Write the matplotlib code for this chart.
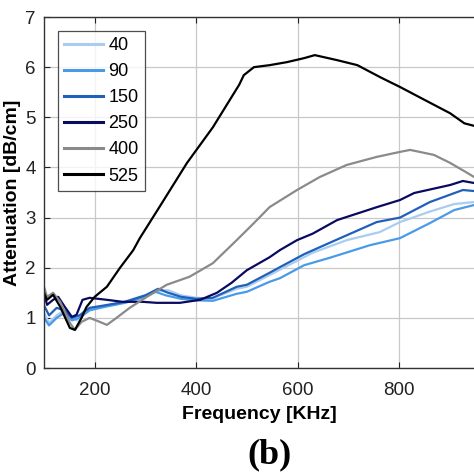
import numpy as np
import matplotlib.pyplot as plt

# frequency [KHz] / attenuation [dB/cm]
f_525 = [100, 106, 118, 132, 151, 161, 174, 184, 200, 224, 250, 276, 289, 327, 382, 433, 485,
         494, 514, 545, 579, 613, 634, 678, 718, 763, 803, 850, 901, 929, 948]
a_525 = [1.50, 1.36, 1.46, 1.22, 0.80, 0.76, 1.00, 1.22, 1.42, 1.62, 2.00, 2.35, 2.59, 3.20, 4.09, 4.80, 5.65,
         5.84, 6.00, 6.04, 6.10, 6.18, 6.24, 6.14, 6.04, 5.80, 5.60, 5.35, 5.08, 4.88, 4.83]

f_400 = [100, 106, 118, 132, 151, 161, 174, 190, 210, 224, 243, 269, 303, 342, 387, 433, 480,
         514, 545, 599, 644, 697, 756, 802, 822, 869, 901, 935, 948]
a_400 = [1.62, 1.42, 1.50, 1.32, 0.90, 0.76, 0.92, 1.00, 0.92, 0.86, 1.00, 1.20, 1.42, 1.66, 1.82, 2.09, 2.55,
         2.89, 3.21, 3.55, 3.81, 4.05, 4.21, 4.31, 4.35, 4.25, 4.09, 3.89, 3.81]

f_250 = [100, 106, 118, 128, 141, 155, 164, 176, 190, 224, 255, 295, 322, 368, 408, 441, 470,
         500, 545, 565, 599, 630, 678, 757, 802, 830, 901, 926, 948]
a_250 = [1.50, 1.26, 1.36, 1.42, 1.22, 1.02, 1.06, 1.36, 1.40, 1.36, 1.32, 1.32, 1.30, 1.30, 1.36, 1.50, 1.70,
         1.95, 2.21, 2.35, 2.55, 2.68, 2.95, 3.21, 3.35, 3.49, 3.65, 3.73, 3.69]

f_150 = [100, 110, 125, 140, 155, 170, 190, 220, 260, 300, 325, 345, 370, 400, 433, 480,
         500, 545, 565, 613, 664, 756, 802, 861, 926, 948]
a_150 = [1.25, 1.05, 1.20, 1.15, 1.00, 1.05, 1.20, 1.25, 1.32, 1.45, 1.58, 1.50, 1.42, 1.38, 1.40, 1.62,
         1.66, 1.90, 2.01, 2.27, 2.50, 2.91, 3.00, 3.31, 3.55, 3.53]

f_90 = [100, 110, 125, 140, 155, 170, 190, 220, 260, 300, 320, 340, 370, 400, 433, 480,
        500, 545, 565, 613, 664, 743, 802, 861, 909, 948]
a_90 = [1.00, 0.85, 1.00, 1.10, 0.95, 1.00, 1.15, 1.22, 1.30, 1.42, 1.52, 1.45, 1.38, 1.35, 1.34, 1.48,
        1.52, 1.72, 1.79, 2.05, 2.20, 2.45, 2.59, 2.89, 3.15, 3.25]

f_40 = [100, 110, 125, 140, 155, 165, 180, 200, 250, 300, 330, 345, 370, 400, 430, 480,
        500, 565, 630, 697, 762, 802, 861, 909, 948]
a_40 = [1.10, 0.90, 1.05, 1.15, 1.00, 0.95, 1.15, 1.20, 1.30, 1.45, 1.55, 1.55, 1.45, 1.40, 1.38, 1.58,
        1.62, 1.96, 2.30, 2.55, 2.71, 2.91, 3.12, 3.27, 3.31]

labels = ['40', '90', '150', '250', '400', '525']
colors = ['#a8cdf0', '#4a9ae8', '#2060b8', '#0a0a60', '#8a8a8a', '#000000']
series = [(f_40, a_40), (f_90, a_90), (f_150, a_150), (f_250, a_250), (f_400, a_400), (f_525, a_525)]

plt.rcParams['font.family'] = ['Liberation Sans', 'DejaVu Sans']

fig = plt.figure(figsize=(4.74, 4.74), dpi=100)
ax = fig.add_axes([0.0928, 0.2236, 0.9072, 0.7405])

for (f, a), lab, c in zip(series, labels, colors):
    ax.plot(f, a, color=c, lw=1.6, label=lab)

ax.set_xlim(100, 948)
ax.set_ylim(0, 7)
ax.set_xticks([200, 400, 600, 800])
ax.set_yticks(range(8))
ax.grid(True, color='#c8c8c8', lw=0.9)
ax.set_axisbelow(True)
ax.tick_params(direction='in', length=4, width=0.8, top=True, labelsize=13.5, colors='#222222')
ax.tick_params(axis='x', pad=10)
ax.tick_params(axis='y', pad=6)
for s in ['left', 'bottom', 'top']:
    ax.spines[s].set_color('#333333')
    ax.spines[s].set_linewidth(1.0)
ax.spines['right'].set_visible(False)

ax.set_xlabel('Frequency [KHz]', fontsize=14, fontweight='bold', labelpad=5)
ax.set_ylabel('Attenuation [dB/cm]', fontsize=14, fontweight='bold', labelpad=3)

leg = ax.legend(loc='upper left', bbox_to_anchor=(0.033, 0.96), fontsize=13, frameon=True,
                fancybox=False, edgecolor='#222222', handlelength=2.15, handletextpad=0.28,
                labelspacing=0.5, borderpad=0.35, borderaxespad=0)
leg.get_frame().set_linewidth(0.9)
for line in leg.get_lines():
    line.set_linewidth(2.2)

fig.text(0.568, 0.04, '(b)', fontsize=26, fontweight='bold', family='Liberation Serif',
         ha='center', va='center')

fig.savefig('out.png', dpi=100)
